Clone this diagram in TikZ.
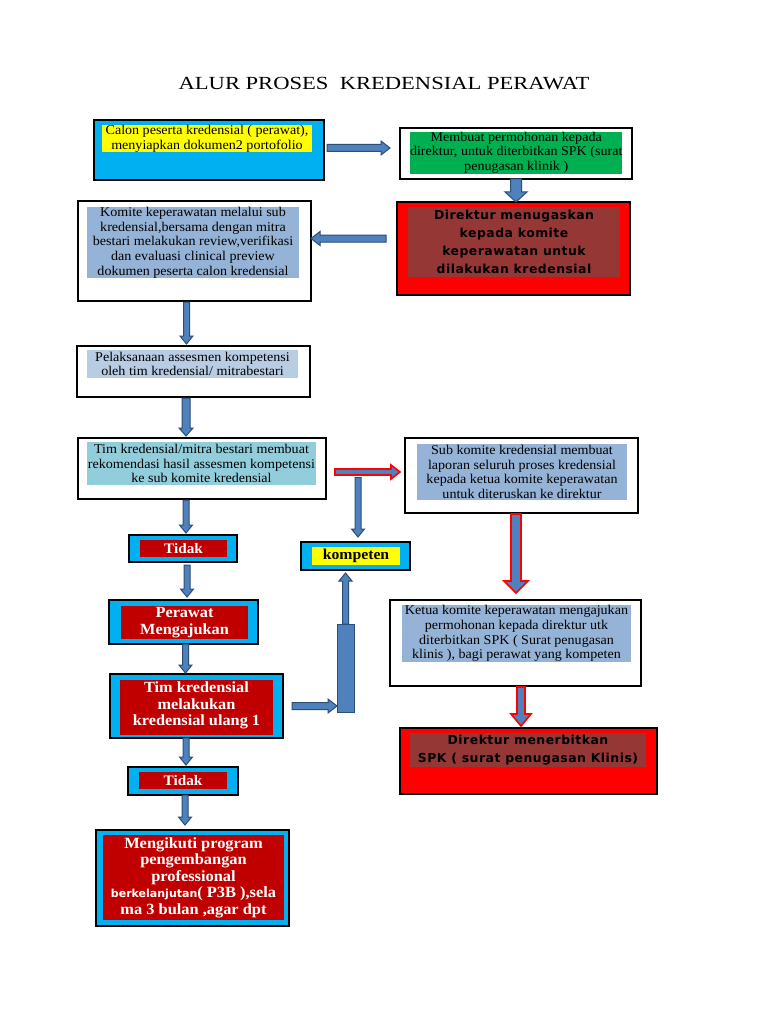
\documentclass[tikz,border=0pt]{standalone}
\usepackage{fontspec}
\setmainfont{Liberation Serif}[FakeStretch=1.05]
\newfontfamily\titlefont[FakeStretch=1.22]{Liberation Serif}
\newfontfamily\spacedsans[LetterSpace=4]{DejaVu Sans}
\newfontfamily\plainsans{DejaVu Sans}
\usetikzlibrary{calc}
\definecolor{cyanbox}{HTML}{00B0F0}
\definecolor{ylw}{HTML}{FFFF00}
\definecolor{grn}{HTML}{00B050}
\definecolor{redbox}{HTML}{FF0000}
\definecolor{brick}{HTML}{953735}
\definecolor{lblue}{HTML}{95B3D7}
\definecolor{llblue}{HTML}{B8CCE4}
\definecolor{aqua}{HTML}{92CDDC}
\definecolor{dred}{HTML}{C00000}
\definecolor{afill}{HTML}{4F81BD}
\definecolor{aline}{HTML}{2C4D75}
\newcommand\bodyf{\fontsize{13.4}{14.7}\selectfont}
\newcommand\boldsf{\spacedsans\bfseries\fontsize{12.4}{18}\selectfont}
\newcommand\boxnode[6]{\node[#6, minimum width={(#4-#2)*1pt}, minimum height={(#5-#3)*1pt}] (#1) at (#2,#3) {};}
\newcommand\txtnode[7]{\node[#6, minimum width={(#4-#2)*1pt}, minimum height={(#5-#3)*1pt}] (#1) at (#2,#3) {#7};}
% block arrow: #1 style, #2 start, #3 end, #4 shaft half width, #5 head half width, #6 head length
\newcommand\blockarrow[6]{%
  \path[#1] let \p1=(#2), \p2=(#3), \n1={veclen(\x2-\x1,\y2-\y1)},
    \n2={(\x2-\x1)/(\n1)}, \n3={(\y2-\y1)/(\n1)} in
    ({\x1-(\n3)*#4},{\y1+(\n2)*#4}) --
    ({\x2-(\n2)*#6-(\n3)*#4},{\y2-(\n3)*#6+(\n2)*#4}) --
    ({\x2-(\n2)*#6-(\n3)*#5},{\y2-(\n3)*#6+(\n2)*#5}) --
    (\p2) --
    ({\x2-(\n2)*#6+(\n3)*#5},{\y2-(\n3)*#6-(\n2)*#5}) --
    ({\x2-(\n2)*#6+(\n3)*#4},{\y2-(\n3)*#6-(\n2)*#4}) --
    ({\x1+(\n3)*#4},{\y1-(\n2)*#4}) -- cycle;}
\begin{document}
\begin{tikzpicture}[x=1pt,y=-1pt,
  outer/.style={draw=black, line width=2pt, anchor=north west, inner sep=0pt, outer sep=0pt},
  inner/.style={anchor=north west, inner sep=0pt, outer sep=0pt, align=center},
  bodytext/.style={inner, font=\bodyf},
  sanstext/.style={inner, font=\boldsf, text=black},
  whitebold/.style={inner, text=white, font=\bfseries\fontsize{14.5}{15}\selectfont},
  bigwhite/.style={inner, text=white, font=\bfseries\fontsize{15.5}{16.5}\selectfont},
  blockblue/.style={fill=afill, draw=aline, line width=1pt, line join=miter},
  blockred/.style={fill=afill, draw=redbox, line width=1.6pt, line join=miter}]
\useasboundingbox[fill=white] (0,0) rectangle (768,1024);

\node[font=\titlefont\fontsize{18.5}{20}\selectfont] (title) at (384,84) {ALUR PROSES\ \ KREDENSIAL PERAWAT};

% Box 1
\boxnode{b1}{94}{120}{324}{180}{outer, fill=cyanbox, line width=2.5pt}
\txtnode{b1in}{102}{125}{312}{152}{bodytext, fill=ylw}{Calon peserta kredensial ( perawat),\\menyiapkan dokumen2 portofolio}
% Box 2
\boxnode{b2}{400}{128}{632}{179}{outer, fill=white, line width=2.5pt}
\txtnode{b2in}{410}{132}{622}{172}{bodytext, fill=grn}{Membuat permohonan kepada\\direktur, untuk diterbitkan SPK (surat\\penugasan klinik )}
% Box 3
\boxnode{b3}{397}{202}{630}{295}{outer, fill=redbox}
\txtnode{b3in}{408}{207}{620}{277}{sanstext, fill=brick}{Direktur menugaskan\\kepada komite\\keperawatan untuk\\dilakukan kredensial}
% Box 4
\boxnode{b4}{78}{201}{311}{301}{outer, fill=white}
\txtnode{b4in}{87}{207}{299}{278}{bodytext, fill=lblue}{Komite keperawatan melalui sub\\kredensial,bersama dengan mitra\\bestari melakukan review,verifikasi\\dan evaluasi clinical preview\\dokumen peserta calon kredensial}
% Box 5
\boxnode{b5}{77}{346}{310}{397}{outer, fill=white}
\txtnode{b5in}{87}{350}{298}{378}{bodytext, fill=llblue}{Pelaksanaan assesmen kompetensi\\oleh tim kredensial/ mitrabestari}
% Box 6
\boxnode{b6}{78}{438}{326}{499}{outer, fill=white}
\txtnode{b6in}{87}{442}{316}{485}{bodytext, fill=aqua}{Tim kredensial/mitra bestari membuat\\rekomendasi hasil assesmen kompetensi\\ke sub komite kredensial}
% Box 7
\boxnode{b7}{405}{438}{638}{513}{outer, fill=white}
\txtnode{b7in}{417}{444}{627}{500}{bodytext, fill=lblue}{Sub komite kredensial membuat\\laporan seluruh proses kredensial\\kepada ketua komite keperawatan\\untuk diteruskan ke direktur}
% Box 8
\boxnode{b8}{390}{600}{641}{686}{outer, fill=white}
\txtnode{b8in}{402}{605}{631}{662}{bodytext, fill=lblue}{Ketua komite keperawatan mengajukan\\permohonan kepada direktur utk\\diterbitkan SPK ( Surat penugasan\\klinis ), bagi perawat yang kompeten}
% Box 9
\boxnode{b9}{400}{728}{657}{794}{outer, fill=redbox}
\txtnode{b9in}{410}{733}{646}{767}{sanstext, fill=brick}{Direktur menerbitkan\\SPK ( surat penugasan Klinis)}
% Tidak 1
\boxnode{t1}{129}{535}{237}{562}{outer, fill=cyanbox}
\txtnode{t1in}{140}{540}{227}{557}{whitebold, fill=dred}{Tidak}
% kompeten
\boxnode{k}{301}{542}{410}{570}{outer, fill=cyanbox}
\txtnode{kin}{312}{547}{400}{565}{inner, fill=ylw, font=\bfseries\fontsize{15}{15}\selectfont}{kompeten}
% Perawat
\boxnode{p}{109}{600}{258}{644}{outer, fill=cyanbox}
\txtnode{pin}{121}{606}{248}{639}{bigwhite, fill=dred}{Perawat\\Mengajukan}
% Tim kredensial
\boxnode{tk}{110}{674}{283}{738}{outer, fill=cyanbox}
\boxnode{tkin}{120}{680}{273}{735}{inner, fill=dred}
\begin{scope}
\clip (120,680) rectangle (273,735);
\node[anchor=north, inner sep=0pt, align=center, text=white, font=\bfseries\fontsize{15.5}{16.2}\selectfont] (tktext) at (196.5,682) {Tim kredensial\\melakukan\\kredensial ulang 1};
\end{scope}
% Tidak 2
\boxnode{t2}{128}{767}{238}{795}{outer, fill=cyanbox}
\txtnode{t2in}{139}{772}{227}{789}{whitebold, fill=dred}{Tidak}
% Mengikuti
\boxnode{m}{96}{830}{289}{926}{outer, fill=cyanbox}
\boxnode{min}{103}{835}{284}{920}{inner, fill=dred}
\begin{scope}
\clip (103,835) rectangle (284,920);
\node[anchor=north, inner sep=0pt, align=center, text=white, font=\bfseries\fontsize{15.6}{16.5}\selectfont] (mtext) at (193.5,837) {Mengikuti program\\pengembangan\\professional\\{\plainsans\fontsize{11}{16.5}\selectfont berkelanjutan}( P3B ),sela\\ma 3 bulan ,agar dpt};
\end{scope}
% bar
\boxnode{bar}{337}{624}{354}{712}{inner, fill=afill, draw=aline, line width=1pt}

% arrows
\blockarrow{blockblue}{$(b1.east)+(3,-2)$}{$(b2.west |- b1.east)+(-10,-2)$}{3.5}{7}{9}
\blockarrow{blockblue}{b2.south}{b2.south |- b3.north}{5.5}{11}{10}
\blockarrow{blockblue}{$(b3.west)+(-11,-10)$}{$(b4.east |- b3.west)+(0,-10)$}{3.5}{7}{9}
\blockarrow{blockblue}{$(b4.south)+(-8,1)$}{$(b5.north -| b4.south)+(-8,-2)$}{3}{6.5}{8}
\blockarrow{blockblue}{$(b5.south)+(-7.5,1)$}{$(b6.north -| b5.south)+(-7.5,-2)$}{4}{7}{8}
\blockarrow{blockblue}{$(t1.north |- b6.south)+(3,1)$}{$(t1.north)+(3,-2)$}{3}{6.5}{8}
\blockarrow{blockblue}{$(t1.south)+(4,3)$}{$(p.north -| t1.south)+(4,-3)$}{3}{6.5}{8}
\blockarrow{blockblue}{$(p.south)+(2,0)$}{$(tk.north -| p.south)+(2,-1)$}{3}{6.5}{8}
\blockarrow{blockblue}{$(t2.north |- tk.south)+(3,0)$}{$(t2.north)+(3,-2)$}{3}{6.5}{8}
\blockarrow{blockblue}{$(t2.south)+(2,0)$}{$(m.north -| t2.south)+(2,-5)$}{3}{6.5}{8}
\blockarrow{blockblue}{$(tk.east)+(9,0)$}{bar.west |- tk.east}{3.5}{7}{9}
\blockarrow{blockblue}{bar.north}{$(k.south -| bar.north)+(0,3)$}{3}{6.5}{8}
\blockarrow{blockred}{$(b6.east)+(9,3.5)$}{$(b7.west |- b6.east)+(-5,3.5)$}{3}{7}{9}
\coordinate (kin0) at ($(k.north |- b6.east)+(2.5,9)$);
\blockarrow{blockblue}{kin0}{$(k.north)+(2.5,-5)$}{3}{6.5}{8}
\blockarrow{blockred}{$(b8.north |- b7.south)+(0.5,1)$}{$(b8.north)+(0.5,-7)$}{5}{12}{12}
\blockarrow{blockred}{$(b8.south)+(5.5,1)$}{$(b9.north -| b8.south)+(5.5,-2)$}{4}{10}{12}
\end{tikzpicture}
\end{document}
